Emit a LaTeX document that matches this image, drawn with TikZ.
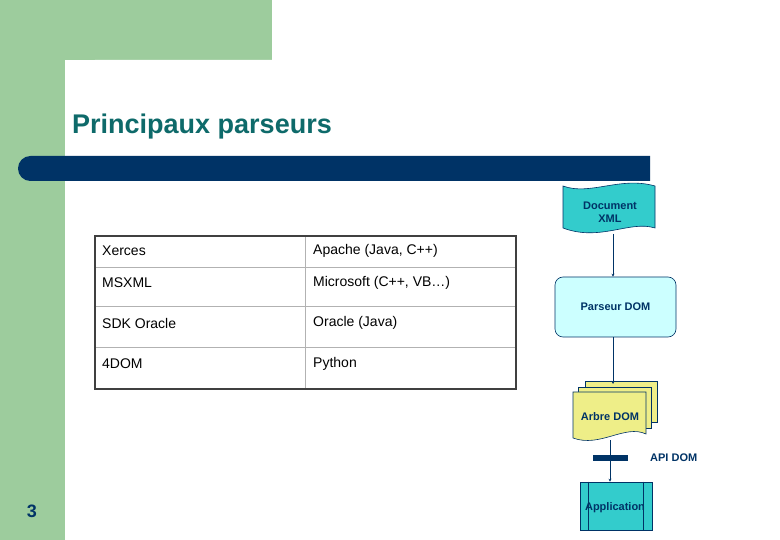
\documentclass[tikz,border=0pt]{standalone}
\usepackage{fontspec}
\setmainfont{Liberation Sans}
\usetikzlibrary{arrows.meta}
\begin{document}
\begin{tikzpicture}[x=1pt,y=-1pt,
  lbl/.style={font=\bfseries\fontsize{11}{13}\selectfont,text=navy,align=center,inner sep=0},
  cell/.style={anchor=west,font=\fontsize{14}{16}\selectfont,inner sep=0},
  conn/.style={navy,line width=0.8pt,-{Stealth[length=3pt,width=3pt]}}]
\definecolor{green1}{HTML}{9DCC9D}
\definecolor{navy}{HTML}{003366}
\definecolor{teal1}{HTML}{33CCCC}
\definecolor{cyanl}{HTML}{CCFFFF}
\definecolor{yell}{HTML}{EEEE88}
\definecolor{titlec}{HTML}{0E6A6A}
\useasboundingbox (0,0) rectangle (780,540);
\fill[green1] (0,0) rectangle (272,60);
\fill[green1] (0,0) rectangle (65,540);
\fill[white] (65,545) [rounded corners=30pt]-- (65,60) [sharp corners]-- (785,60) -- (785,545) -- cycle;
\node[anchor=west,font=\bfseries\fontsize{27}{32}\selectfont,text=titlec,inner sep=0] (title) at (72,127) {Principaux parseurs};
\fill[navy] (650,156) [rounded corners=12.4pt]-- (18,156) -- (18,181) [sharp corners]-- (650,181) -- cycle;
% table
\draw[gray!60,line width=1pt] (95,268) -- (516,268) (95,307) -- (516,307) (95,348) -- (516,348) (305,236) -- (305,389);
\draw[black!75,line width=1.5pt] (95,236) rectangle (516,389);
\node[cell] (a1) at (102,251) {Xerces};
\node[cell] (b1) at (313,251) {Apache (Java, C++)};
\node[cell] (a2) at (102,283) {MSXML};
\node[cell] (b2) at (313,283) {Microsoft (C++, VB…)};
\node[cell] (a3) at (102,323) {SDK Oracle};
\node[cell] (b3) at (313,323) {Oracle (Java)};
\node[cell] (a4) at (102,364) {4DOM};
\node[cell] (b4) at (313,364) {Python};
% document
\draw[navy,fill=teal1,line width=0.6pt] (563,186) .. controls (590,196) and (620,176) .. (655,186) -- (655,228) .. controls (630,220) and (600,242) .. (563,228) -- cycle;
\node[lbl] (doc) at (610,212) {Document\\XML};
\coordinate (docb) at (613,234);
\node[draw=navy,fill=cyanl,rounded corners=8pt,line width=0.6pt,minimum width=121pt,minimum height=60pt,lbl] (parser) at (615.5,307) {Parseur DOM};
\draw[conn] (docb) -- (parser.north -| docb);
% arbre
\draw[navy,fill=yell,line width=0.6pt] (585,381) rectangle (657,422);
\draw[navy,fill=yell,line width=0.6pt] (578,387) rectangle (651,428);
\draw[navy,fill=yell,line width=0.6pt] (573,392) -- (646,392) -- (646,434) .. controls (625,424) and (600,448) .. (573,438) -- cycle;
\coordinate (arbtop) at (613,384);
\draw[conn] (parser.south -| arbtop) -- (arbtop);
\node[lbl] (arbre) at (610,417) {Arbre DOM};
\coordinate (arbb) at (610,440);
\node[fill=navy,minimum width=35pt,minimum height=6pt,inner sep=0] (api) at (610.5,458) {};
\node[lbl,anchor=west] (apil) at (650,458) {API DOM};
\node[draw=navy,fill=teal1,line width=0.6pt,minimum width=72pt,minimum height=48pt,inner sep=0] (app) at (616,506) {};
\draw[navy,line width=0.6pt] ([xshift=9pt]app.north west) -- ([xshift=9pt]app.south west) ([xshift=-9pt]app.north east) -- ([xshift=-9pt]app.south east);
\node[lbl] (appl) at (615,508) {Application};
\draw[conn] (arbb) -- (app.north -| arbb);
\node[font=\bfseries\fontsize{18}{20}\selectfont,text=navy,inner sep=0] (num) at (32,511) {3};
\end{tikzpicture}
\end{document}
